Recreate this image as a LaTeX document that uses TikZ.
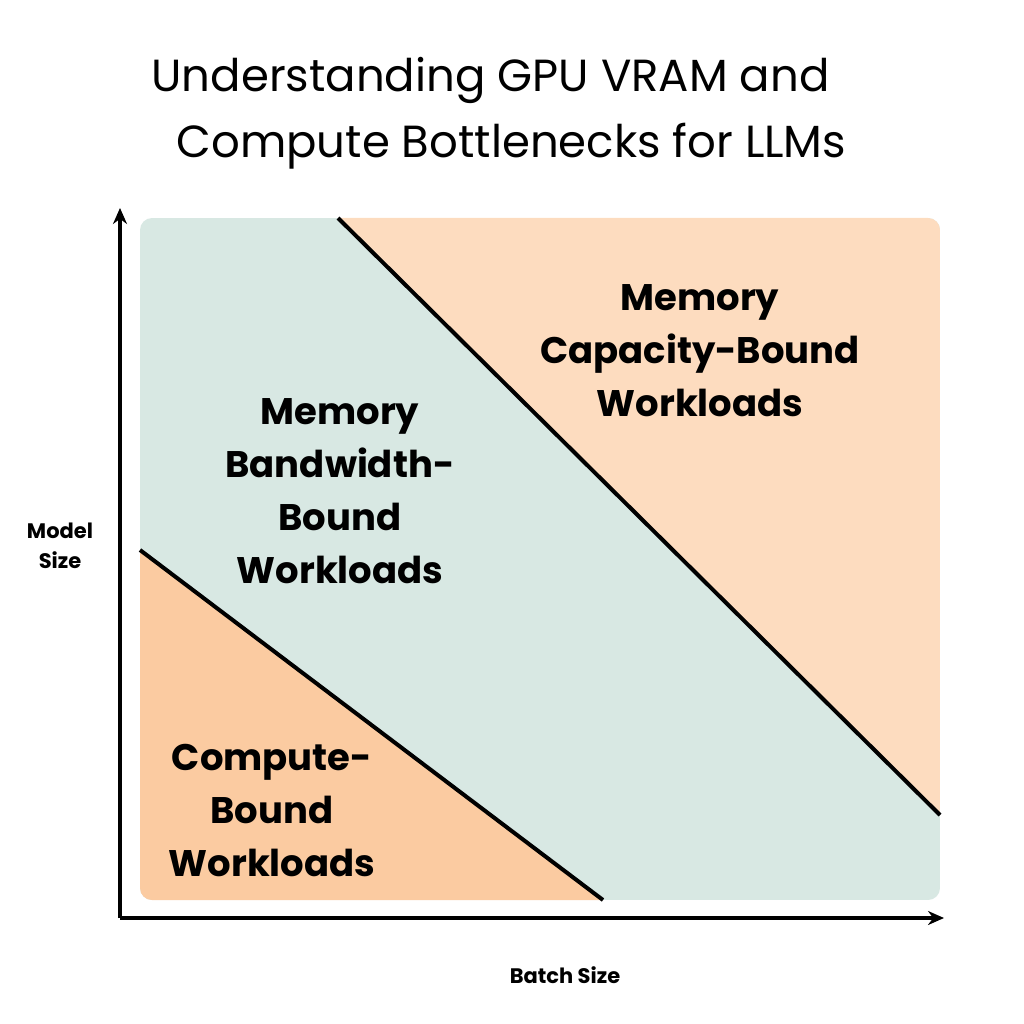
\documentclass[tikz,border=0pt]{standalone}
\usepackage{fontspec}
\setmainfont{Poppins}
\usetikzlibrary{arrows.meta}
\definecolor{cmpcol}{HTML}{FBCBA1}
\definecolor{bwcol}{HTML}{D8E8E3}
\definecolor{capcol}{HTML}{FDDCBF}
\tikzset{lbl/.style={align=center,font=\fontsize{37}{53}\selectfont\bfseries},
ax/.style={line width=4pt,-{Stealth[length=16pt,width=14pt]}},
bd/.style={line width=4pt}}
\begin{document}
\begin{tikzpicture}[x=1pt,y=-1pt]
\useasboundingbox (0,0) rectangle (1024,1024);
\begin{scope}
\clip[rounded corners=12pt] (140,218) rectangle (940,900);
\fill[bwcol] (140,218) rectangle (940,900);
\fill[capcol] (338,218) -- (940,218) -- (940,815) -- cycle;
\fill[cmpcol] (140,550) -- (603,900) -- (140,900) -- cycle;
\end{scope}
\coordinate (l1a) at (140,550); \coordinate (l1b) at (603,900);
\coordinate (l2a) at (338,218); \coordinate (l2b) at (940,815);
\draw[bd] (l1a) -- (l1b);
\draw[bd] (l2a) -- (l2b);
\coordinate (o) at (120,918); \coordinate (yt) at (120,208); \coordinate (xt) at (944,918);
\draw[ax] (o) -- (yt);
\draw[ax] (o) -- (xt);
\node[font=\fontsize{45}{66}\selectfont, align=left, anchor=west] (title) at (148,113) {Understanding GPU VRAM and\\ \hspace*{25pt}Compute Bottlenecks for LLMs};
\node[lbl] (capl) at (700,351) {Memory\\Capacity-Bound\\Workloads};
\node[lbl] (bwl) at (340,491) {Memory\\Bandwidth-\\Bound\\Workloads};
\node[lbl] (cml) at (272,811) {Compute-\\Bound\\Workloads};
\node[font=\fontsize{21}{30}\selectfont\bfseries, align=center] (ms) at (60,546) {Model\\Size};
\node[font=\fontsize{21}{30}\selectfont\bfseries] (bs) at (565,975) {Batch Size};
\end{tikzpicture}
\end{document}
